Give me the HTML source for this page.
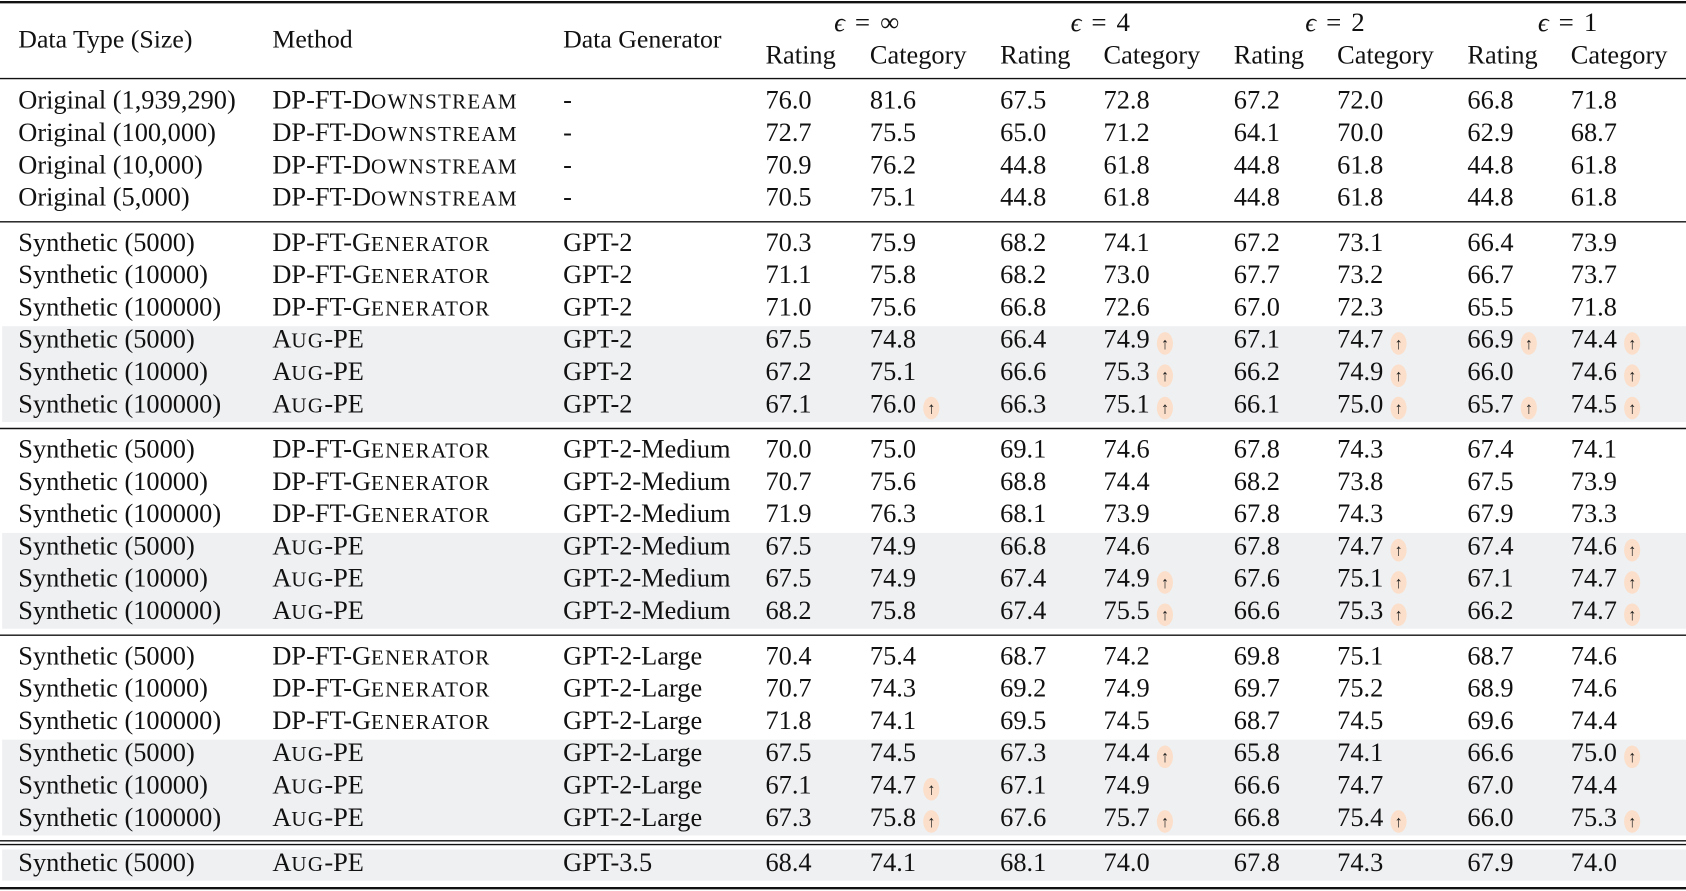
<!DOCTYPE html>
<html><head><meta charset="utf-8"><style>
html,body{margin:0;padding:0;background:#fff;}
svg{display:block;}
text{font-family:"Liberation Serif",serif;font-size:24.5px;fill:#111;}
.h{font-size:24px}
.sc{font-size:19.5px;letter-spacing:1.2px}
.ar{font-size:15px;fill:#222}
.e{font-size:25px}
</style></head><body>
<svg width="1686" height="891" viewBox="0 0 1566 827.6" preserveAspectRatio="none" xmlns="http://www.w3.org/2000/svg">
<defs>
<g id="a"><ellipse cx="0" cy="0" rx="7.5" ry="10.5" fill="#fbdfca"/><text x="0" y="5" text-anchor="middle" class="ar">↑</text></g>
</defs>
<rect x="2" y="303" width="1564" height="89" fill="#eff0f2"/>
<rect x="2" y="495" width="1564" height="89" fill="#eff0f2"/>
<rect x="2" y="687" width="1564" height="89" fill="#eff0f2"/>
<rect x="2" y="789" width="1564" height="29" fill="#eff0f2"/>
<g stroke="#111">
<line x1="0" y1="2" x2="1566" y2="2" stroke-width="2.2"/>
<line x1="0" y1="73" x2="1566" y2="73" stroke-width="1.3"/>
<line x1="0" y1="206" x2="1566" y2="206" stroke-width="1.3"/>
<line x1="0" y1="398" x2="1566" y2="398" stroke-width="1.3"/>
<line x1="0" y1="590" x2="1566" y2="590" stroke-width="1.3"/>
<line x1="0" y1="781" x2="1566" y2="781" stroke-width="1.3"/>
<line x1="0" y1="784.5" x2="1566" y2="784.5" stroke-width="1.3"/>
<line x1="0" y1="825" x2="1566" y2="825" stroke-width="2.2"/>
</g>
<text x="17" y="44" class="h">Data Type (Size)</text>
<text x="253" y="44" class="h">Method</text>
<text x="523" y="44" class="h">Data Generator</text>
<g text-anchor="middle" class="e"><text x="805" y="29" class="e"><tspan font-style="italic">ϵ</tspan> <tspan dx="3">=</tspan> <tspan dx="3">∞</tspan></text><text x="1022" y="29" class="e"><tspan font-style="italic">ϵ</tspan> <tspan dx="3">=</tspan> <tspan dx="3">4</tspan></text><text x="1240" y="29" class="e"><tspan font-style="italic">ϵ</tspan> <tspan dx="3">=</tspan> <tspan dx="3">2</tspan></text><text x="1456" y="29" class="e"><tspan font-style="italic">ϵ</tspan> <tspan dx="3">=</tspan> <tspan dx="3">1</tspan></text></g>
<text x="711" y="59">Rating</text><text x="808" y="59">Category</text><text x="929" y="59">Rating</text><text x="1025" y="59">Category</text><text x="1146" y="59">Rating</text><text x="1242" y="59">Category</text><text x="1363" y="59">Rating</text><text x="1459" y="59">Category</text>

<!-- group 1 -->
<text x="17" y="101">Original (1,939,290)</text><text x="253" y="101">DP-FT-D<tspan class="sc">OWNSTREAM</tspan></text><text x="523" y="101">-</text>
<text x="711" y="101">76.0</text><text x="808" y="101">81.6</text><text x="929" y="101">67.5</text><text x="1025" y="101">72.8</text><text x="1146" y="101">67.2</text><text x="1242" y="101">72.0</text><text x="1363" y="101">66.8</text><text x="1459" y="101">71.8</text>
<text x="17" y="131">Original (100,000)</text><text x="253" y="131">DP-FT-D<tspan class="sc">OWNSTREAM</tspan></text><text x="523" y="131">-</text>
<text x="711" y="131">72.7</text><text x="808" y="131">75.5</text><text x="929" y="131">65.0</text><text x="1025" y="131">71.2</text><text x="1146" y="131">64.1</text><text x="1242" y="131">70.0</text><text x="1363" y="131">62.9</text><text x="1459" y="131">68.7</text>
<text x="17" y="161">Original (10,000)</text><text x="253" y="161">DP-FT-D<tspan class="sc">OWNSTREAM</tspan></text><text x="523" y="161">-</text>
<text x="711" y="161">70.9</text><text x="808" y="161">76.2</text><text x="929" y="161">44.8</text><text x="1025" y="161">61.8</text><text x="1146" y="161">44.8</text><text x="1242" y="161">61.8</text><text x="1363" y="161">44.8</text><text x="1459" y="161">61.8</text>
<text x="17" y="191">Original (5,000)</text><text x="253" y="191">DP-FT-D<tspan class="sc">OWNSTREAM</tspan></text><text x="523" y="191">-</text>
<text x="711" y="191">70.5</text><text x="808" y="191">75.1</text><text x="929" y="191">44.8</text><text x="1025" y="191">61.8</text><text x="1146" y="191">44.8</text><text x="1242" y="191">61.8</text><text x="1363" y="191">44.8</text><text x="1459" y="191">61.8</text>

<!-- group 2 -->
<text x="17" y="233">Synthetic (5000)</text><text x="253" y="233">DP-FT-G<tspan class="sc">ENERATOR</tspan></text><text x="523" y="233">GPT-2</text>
<text x="711" y="233">70.3</text><text x="808" y="233">75.9</text><text x="929" y="233">68.2</text><text x="1025" y="233">74.1</text><text x="1146" y="233">67.2</text><text x="1242" y="233">73.1</text><text x="1363" y="233">66.4</text><text x="1459" y="233">73.9</text>
<text x="17" y="263">Synthetic (10000)</text><text x="253" y="263">DP-FT-G<tspan class="sc">ENERATOR</tspan></text><text x="523" y="263">GPT-2</text>
<text x="711" y="263">71.1</text><text x="808" y="263">75.8</text><text x="929" y="263">68.2</text><text x="1025" y="263">73.0</text><text x="1146" y="263">67.7</text><text x="1242" y="263">73.2</text><text x="1363" y="263">66.7</text><text x="1459" y="263">73.7</text>
<text x="17" y="293">Synthetic (100000)</text><text x="253" y="293">DP-FT-G<tspan class="sc">ENERATOR</tspan></text><text x="523" y="293">GPT-2</text>
<text x="711" y="293">71.0</text><text x="808" y="293">75.6</text><text x="929" y="293">66.8</text><text x="1025" y="293">72.6</text><text x="1146" y="293">67.0</text><text x="1242" y="293">72.3</text><text x="1363" y="293">65.5</text><text x="1459" y="293">71.8</text>
<text x="17" y="323">Synthetic (5000)</text><text x="253" y="323">A<tspan class="sc">UG</tspan>-PE</text><text x="523" y="323">GPT-2</text>
<text x="711" y="323">67.5</text><text x="808" y="323">74.8</text><text x="929" y="323">66.4</text><text x="1025" y="323">74.9</text><text x="1146" y="323">67.1</text><text x="1242" y="323">74.7</text><text x="1363" y="323">66.9</text><text x="1459" y="323">74.4</text>
<text x="17" y="353">Synthetic (10000)</text><text x="253" y="353">A<tspan class="sc">UG</tspan>-PE</text><text x="523" y="353">GPT-2</text>
<text x="711" y="353">67.2</text><text x="808" y="353">75.1</text><text x="929" y="353">66.6</text><text x="1025" y="353">75.3</text><text x="1146" y="353">66.2</text><text x="1242" y="353">74.9</text><text x="1363" y="353">66.0</text><text x="1459" y="353">74.6</text>
<text x="17" y="383">Synthetic (100000)</text><text x="253" y="383">A<tspan class="sc">UG</tspan>-PE</text><text x="523" y="383">GPT-2</text>
<text x="711" y="383">67.1</text><text x="808" y="383">76.0</text><text x="929" y="383">66.3</text><text x="1025" y="383">75.1</text><text x="1146" y="383">66.1</text><text x="1242" y="383">75.0</text><text x="1363" y="383">65.7</text><text x="1459" y="383">74.5</text>
<use href="#a" x="1082" y="319"/><use href="#a" x="1299" y="319"/><use href="#a" x="1420" y="319"/><use href="#a" x="1516" y="319"/>
<use href="#a" x="1082" y="349"/><use href="#a" x="1299" y="349"/><use href="#a" x="1516" y="349"/>
<use href="#a" x="865" y="379"/><use href="#a" x="1082" y="379"/><use href="#a" x="1299" y="379"/><use href="#a" x="1420" y="379"/><use href="#a" x="1516" y="379"/>

<!-- group 3 -->
<text x="17" y="425">Synthetic (5000)</text><text x="253" y="425">DP-FT-G<tspan class="sc">ENERATOR</tspan></text><text x="523" y="425">GPT-2-Medium</text>
<text x="711" y="425">70.0</text><text x="808" y="425">75.0</text><text x="929" y="425">69.1</text><text x="1025" y="425">74.6</text><text x="1146" y="425">67.8</text><text x="1242" y="425">74.3</text><text x="1363" y="425">67.4</text><text x="1459" y="425">74.1</text>
<text x="17" y="455">Synthetic (10000)</text><text x="253" y="455">DP-FT-G<tspan class="sc">ENERATOR</tspan></text><text x="523" y="455">GPT-2-Medium</text>
<text x="711" y="455">70.7</text><text x="808" y="455">75.6</text><text x="929" y="455">68.8</text><text x="1025" y="455">74.4</text><text x="1146" y="455">68.2</text><text x="1242" y="455">73.8</text><text x="1363" y="455">67.5</text><text x="1459" y="455">73.9</text>
<text x="17" y="485">Synthetic (100000)</text><text x="253" y="485">DP-FT-G<tspan class="sc">ENERATOR</tspan></text><text x="523" y="485">GPT-2-Medium</text>
<text x="711" y="485">71.9</text><text x="808" y="485">76.3</text><text x="929" y="485">68.1</text><text x="1025" y="485">73.9</text><text x="1146" y="485">67.8</text><text x="1242" y="485">74.3</text><text x="1363" y="485">67.9</text><text x="1459" y="485">73.3</text>
<text x="17" y="515">Synthetic (5000)</text><text x="253" y="515">A<tspan class="sc">UG</tspan>-PE</text><text x="523" y="515">GPT-2-Medium</text>
<text x="711" y="515">67.5</text><text x="808" y="515">74.9</text><text x="929" y="515">66.8</text><text x="1025" y="515">74.6</text><text x="1146" y="515">67.8</text><text x="1242" y="515">74.7</text><text x="1363" y="515">67.4</text><text x="1459" y="515">74.6</text>
<text x="17" y="545">Synthetic (10000)</text><text x="253" y="545">A<tspan class="sc">UG</tspan>-PE</text><text x="523" y="545">GPT-2-Medium</text>
<text x="711" y="545">67.5</text><text x="808" y="545">74.9</text><text x="929" y="545">67.4</text><text x="1025" y="545">74.9</text><text x="1146" y="545">67.6</text><text x="1242" y="545">75.1</text><text x="1363" y="545">67.1</text><text x="1459" y="545">74.7</text>
<text x="17" y="575">Synthetic (100000)</text><text x="253" y="575">A<tspan class="sc">UG</tspan>-PE</text><text x="523" y="575">GPT-2-Medium</text>
<text x="711" y="575">68.2</text><text x="808" y="575">75.8</text><text x="929" y="575">67.4</text><text x="1025" y="575">75.5</text><text x="1146" y="575">66.6</text><text x="1242" y="575">75.3</text><text x="1363" y="575">66.2</text><text x="1459" y="575">74.7</text>
<use href="#a" x="1299" y="511"/><use href="#a" x="1516" y="511"/>
<use href="#a" x="1082" y="541"/><use href="#a" x="1299" y="541"/><use href="#a" x="1516" y="541"/>
<use href="#a" x="1082" y="571"/><use href="#a" x="1299" y="571"/><use href="#a" x="1516" y="571"/>

<!-- group 4 -->
<text x="17" y="617">Synthetic (5000)</text><text x="253" y="617">DP-FT-G<tspan class="sc">ENERATOR</tspan></text><text x="523" y="617">GPT-2-Large</text>
<text x="711" y="617">70.4</text><text x="808" y="617">75.4</text><text x="929" y="617">68.7</text><text x="1025" y="617">74.2</text><text x="1146" y="617">69.8</text><text x="1242" y="617">75.1</text><text x="1363" y="617">68.7</text><text x="1459" y="617">74.6</text>
<text x="17" y="647">Synthetic (10000)</text><text x="253" y="647">DP-FT-G<tspan class="sc">ENERATOR</tspan></text><text x="523" y="647">GPT-2-Large</text>
<text x="711" y="647">70.7</text><text x="808" y="647">74.3</text><text x="929" y="647">69.2</text><text x="1025" y="647">74.9</text><text x="1146" y="647">69.7</text><text x="1242" y="647">75.2</text><text x="1363" y="647">68.9</text><text x="1459" y="647">74.6</text>
<text x="17" y="677">Synthetic (100000)</text><text x="253" y="677">DP-FT-G<tspan class="sc">ENERATOR</tspan></text><text x="523" y="677">GPT-2-Large</text>
<text x="711" y="677">71.8</text><text x="808" y="677">74.1</text><text x="929" y="677">69.5</text><text x="1025" y="677">74.5</text><text x="1146" y="677">68.7</text><text x="1242" y="677">74.5</text><text x="1363" y="677">69.6</text><text x="1459" y="677">74.4</text>
<text x="17" y="707">Synthetic (5000)</text><text x="253" y="707">A<tspan class="sc">UG</tspan>-PE</text><text x="523" y="707">GPT-2-Large</text>
<text x="711" y="707">67.5</text><text x="808" y="707">74.5</text><text x="929" y="707">67.3</text><text x="1025" y="707">74.4</text><text x="1146" y="707">65.8</text><text x="1242" y="707">74.1</text><text x="1363" y="707">66.6</text><text x="1459" y="707">75.0</text>
<text x="17" y="737">Synthetic (10000)</text><text x="253" y="737">A<tspan class="sc">UG</tspan>-PE</text><text x="523" y="737">GPT-2-Large</text>
<text x="711" y="737">67.1</text><text x="808" y="737">74.7</text><text x="929" y="737">67.1</text><text x="1025" y="737">74.9</text><text x="1146" y="737">66.6</text><text x="1242" y="737">74.7</text><text x="1363" y="737">67.0</text><text x="1459" y="737">74.4</text>
<text x="17" y="767">Synthetic (100000)</text><text x="253" y="767">A<tspan class="sc">UG</tspan>-PE</text><text x="523" y="767">GPT-2-Large</text>
<text x="711" y="767">67.3</text><text x="808" y="767">75.8</text><text x="929" y="767">67.6</text><text x="1025" y="767">75.7</text><text x="1146" y="767">66.8</text><text x="1242" y="767">75.4</text><text x="1363" y="767">66.0</text><text x="1459" y="767">75.3</text>
<use href="#a" x="1082" y="703"/><use href="#a" x="1516" y="703"/>
<use href="#a" x="865" y="733"/>
<use href="#a" x="865" y="763"/><use href="#a" x="1082" y="763"/><use href="#a" x="1299" y="763"/><use href="#a" x="1516" y="763"/>

<!-- last -->
<text x="17" y="809">Synthetic (5000)</text><text x="253" y="809">A<tspan class="sc">UG</tspan>-PE</text><text x="523" y="809">GPT-3.5</text>
<text x="711" y="809">68.4</text><text x="808" y="809">74.1</text><text x="929" y="809">68.1</text><text x="1025" y="809">74.0</text><text x="1146" y="809">67.8</text><text x="1242" y="809">74.3</text><text x="1363" y="809">67.9</text><text x="1459" y="809">74.0</text>
</svg>
</body></html>
